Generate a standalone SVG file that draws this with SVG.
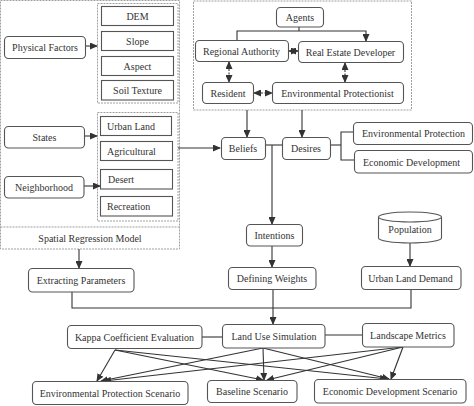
<svg xmlns="http://www.w3.org/2000/svg" width="474" height="406" viewBox="0 0 474 406">
<defs>
<marker id="ah" markerUnits="userSpaceOnUse" markerWidth="8" markerHeight="7" refX="7" refY="3.5" orient="auto-start-reverse">
<path d="M0,0 L8,3.5 L0,7 z" fill="#333"/>
</marker>
<style>
text{font-family:'Liberation Serif','Times New Roman','DejaVu Serif',serif}
.t{font-size:10px;fill:#333;dominant-baseline:central;text-anchor:middle}
.l{text-anchor:start}
.n{fill:#fff;stroke:#555;stroke-width:1.1}
.s{fill:#fff;stroke:#555;stroke-width:1.1}
.g{fill:none;stroke:#a0a0a0;stroke-width:1;stroke-dasharray:2,1}
.c{fill:none;stroke:#333;stroke-width:1.1}
.a{marker-end:url(#ah)}
.d{stroke-dasharray:2,1.5;marker-start:url(#ah);marker-end:url(#ah)}
</style>
</defs>
<rect width="474" height="406" fill="#fff"/>

<g id="frames">
<rect class="g" x="0.5" y="0.5" width="179" height="248.5"/>
<line class="g" x1="0.5" y1="227" x2="179.5" y2="227"/>
<rect class="g" x="97.5" y="3.5" width="80.5" height="99.5"/>
<rect class="g" x="97.5" y="112.5" width="80.5" height="108.5"/>
<rect class="g" x="193.5" y="1" width="218" height="109"/>
</g>

<g id="connectors">
<line class="c a" x1="86" y1="46" x2="97" y2="46"/>
<line class="c a" x1="84" y1="136" x2="97" y2="136"/>
<line class="c a" x1="84" y1="186" x2="100" y2="186"/>
<line class="c a" x1="178" y1="148" x2="220" y2="148"/>
<polyline class="c" points="299,27 299,31"/>
<polyline class="c a" points="237,40 237,31 366,31 366,41"/>
<line class="c d" x1="289" y1="51" x2="298" y2="51"/>
<line class="c d" x1="229" y1="62" x2="229" y2="82"/>
<line class="c d" x1="345" y1="63" x2="345" y2="82"/>
<line class="c d" x1="254" y1="93" x2="272" y2="93"/>
<line class="c a" x1="247" y1="110" x2="247" y2="137"/>
<line class="c a" x1="302" y1="110" x2="302" y2="137"/>
<line class="c" x1="265" y1="145" x2="282" y2="145"/>
<line class="c a" x1="272" y1="145" x2="272" y2="224"/>
<polyline class="c" points="330,145 341,145"/>
<polyline class="c" points="353,132 341,132 341,160 354,160"/>
<line class="c a" x1="272" y1="246" x2="272" y2="267"/>
<line class="c a" x1="410" y1="243" x2="410" y2="266"/>
<line class="c a" x1="79" y1="249" x2="79" y2="268"/>
<polyline class="c" points="72,292 72,308 411,308 411,289"/>
<line class="c a" x1="273" y1="289" x2="273" y2="324"/>
<line class="c" x1="202" y1="337" x2="222" y2="337"/>
<line class="c" x1="325" y1="335" x2="362" y2="335"/>
<line class="c a" x1="115" y1="350" x2="97" y2="381"/>
<line class="c a" x1="115" y1="350" x2="263" y2="380"/>
<line class="c a" x1="115" y1="350" x2="387" y2="379"/>
<line class="c a" x1="263" y1="348" x2="101" y2="381"/>
<line class="c a" x1="263" y1="348" x2="264" y2="380"/>
<line class="c a" x1="263" y1="348" x2="389" y2="379"/>
<line class="c a" x1="403" y1="347" x2="104" y2="381"/>
<line class="c a" x1="403" y1="347" x2="267" y2="380"/>
<line class="c a" x1="403" y1="347" x2="391" y2="379"/>
</g>

<g id="physical"><rect class="n" x="4.5" y="36.5" width="81" height="22" rx="4"/><text class="t" x="45" y="47.5">Physical Factors</text></g>
<g id="dem"><rect class="s" x="101.5" y="6.5" width="72" height="19"/><text class="t" x="137.5" y="16">DEM</text></g>
<g id="slope"><rect class="s" x="101.5" y="31.5" width="72" height="19"/><text class="t" x="137.5" y="41">Slope</text></g>
<g id="aspect"><rect class="s" x="101.5" y="56.5" width="72" height="19"/><text class="t" x="137.5" y="66">Aspect</text></g>
<g id="soil"><rect class="s" x="101.5" y="80.5" width="72" height="19.5"/><text class="t" x="137.5" y="90.5">Soil Texture</text></g>

<g id="states"><rect class="n" x="4.5" y="126.5" width="80" height="21.5" rx="4"/><text class="t" x="44.5" y="137.5">States</text></g>
<g id="neighborhood"><rect class="n" x="4.5" y="176.5" width="79.5" height="21.5" rx="4"/><text class="t" x="44" y="187.5">Neighborhood</text></g>
<g id="urban"><rect class="s" x="100.5" y="116.5" width="71" height="19"/><text class="t l" x="107" y="126">Urban Land</text></g>
<g id="agri"><rect class="s" x="100.5" y="141.5" width="72" height="19"/><text class="t l" x="107" y="151">Agricultural</text></g>
<g id="desert"><rect class="s" x="100.5" y="169.5" width="72" height="19.5"/><text class="t l" x="108" y="179.5">Desert</text></g>
<g id="recreation"><rect class="s" x="100.5" y="196.5" width="72" height="19.5"/><text class="t l" x="107" y="206.5">Recreation</text></g>
<g id="srm"><text class="t" x="90" y="238">Spatial Regression Model</text></g>

<g id="agents"><rect class="n" x="276.5" y="7.5" width="47" height="19.5" rx="4"/><text class="t" x="300" y="17.5">Agents</text></g>
<g id="ra"><rect class="n" x="195.5" y="40.5" width="93" height="21" rx="4"/><text class="t" x="241.5" y="51">Regional Authority</text></g>
<g id="red"><rect class="n" x="298.5" y="41.5" width="105" height="21" rx="4"/><text class="t" x="350.5" y="52">Real Estate Developer</text></g>
<g id="resident"><rect class="n" x="202.5" y="82.5" width="51" height="21" rx="4"/><text class="t" x="228" y="93">Resident</text></g>
<g id="ep"><rect class="n" x="272.5" y="82.5" width="131" height="21" rx="4"/><text class="t" x="337.5" y="93">Environmental Protectionist</text></g>

<g id="beliefs"><rect class="n" x="221.5" y="137.5" width="44" height="22" rx="4"/><text class="t" x="243" y="148.5">Beliefs</text></g>
<g id="desires"><rect class="n" x="282.5" y="137.5" width="48" height="22" rx="4"/><text class="t" x="306" y="148.5">Desires</text></g>
<g id="envprot"><rect class="n" x="353.5" y="122.5" width="119" height="22" rx="4"/><text class="t l" x="362" y="133.5">Environmental Protection</text></g>
<g id="ecodev"><rect class="n" x="354.5" y="150.5" width="118" height="22.5" rx="4"/><text class="t l" x="363" y="162">Economic Development</text></g>

<g id="intentions"><rect class="n" x="246.5" y="224.5" width="56" height="21.5" rx="4"/><text class="t" x="274.5" y="235.5">Intentions</text></g>
<g id="population">
<path class="n" d="M378.5,217 L378.5,238 A31.5,5 0 0 0 441.5,238 L441.5,217"/>
<ellipse class="n" cx="410" cy="217" rx="31.5" ry="5"/>
<text class="t" x="410" y="229">Population</text>
</g>
<g id="extract"><rect class="n" x="28.5" y="268.5" width="105.5" height="23.5" rx="4"/><text class="t" x="81" y="280.5">Extracting Parameters</text></g>
<g id="weights"><rect class="n" x="228.5" y="267.5" width="87.5" height="22" rx="4"/><text class="t" x="272" y="278.5">Defining Weights</text></g>
<g id="demand"><rect class="n" x="361.5" y="266.5" width="99.5" height="23" rx="4"/><text class="t" x="410.5" y="278">Urban Land Demand</text></g>

<g id="kappa"><rect class="n" x="67.5" y="325.5" width="134.5" height="23" rx="4"/><text class="t" x="134.5" y="337">Kappa Coefficient Evaluation</text></g>
<g id="lus"><rect class="n" x="222.5" y="324.5" width="102.5" height="23.5" rx="4"/><text class="t" x="274" y="336">Land Use Simulation</text></g>
<g id="metrics"><rect class="n" x="362.5" y="323.5" width="91.5" height="23.5" rx="4"/><text class="t" x="408" y="335">Landscape Metrics</text></g>

<g id="eps"><rect class="n" x="32.5" y="381.5" width="155.5" height="23" rx="4"/><text class="t" x="110" y="393">Environmental Protection Scenario</text></g>
<g id="base"><rect class="n" x="207.5" y="380.5" width="89.5" height="22" rx="4"/><text class="t" x="252" y="391.5">Baseline Scenario</text></g>
<g id="eds"><rect class="n" x="314.5" y="379.5" width="151.5" height="23.5" rx="4"/><text class="t" x="390" y="391">Economic Development Scenario</text></g>
</svg>
